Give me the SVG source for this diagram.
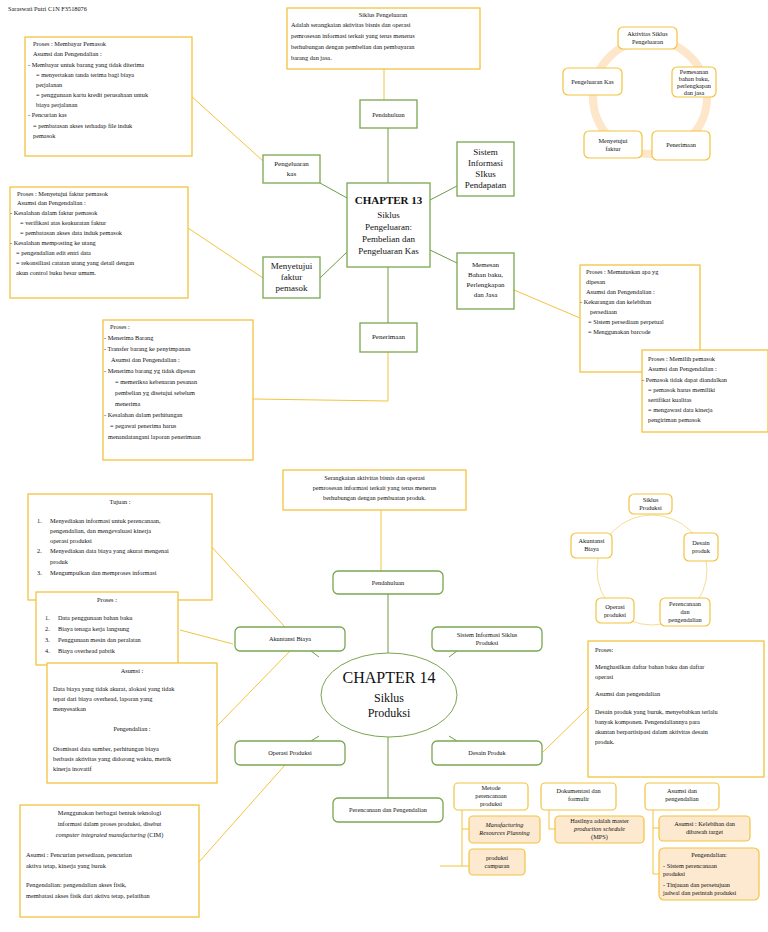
<svg xmlns="http://www.w3.org/2000/svg" width="768" height="932" viewBox="0 0 768 932">
<style>
text{font-family:"Liberation Serif",serif;fill:#111}
.s{font-size:6.3px}
.m{font-size:9px}
.yb{fill:#fff;stroke:#f2c440;stroke-width:1.3}
.gb{fill:#fff;stroke:#7aa652;stroke-width:1.3}
.ob{fill:#fff;stroke:#f2c440;stroke-width:1.2}
.of{fill:#fde9cf;stroke:#f2c440;stroke-width:1.2}
.gl{stroke:#6e9c47;stroke-width:1;fill:none}
.yl{stroke:#f2c440;stroke-width:1;fill:none}
</style>
<rect width="768" height="932" fill="#fff"/>
<text x="8" y="11" class="s">Saraswati Putri C1N F3518076</text>

<g id="connectors">
<line class="yl" x1="190" y1="95" x2="263" y2="161"/>
<line class="yl" x1="188" y1="228" x2="263" y2="278"/>
<line class="yl" x1="384" y1="69" x2="384" y2="100"/>
<line class="yl" x1="514" y1="290" x2="580" y2="318"/>
<polyline class="yl" points="253,399 388,401 388,352"/>
<line class="gl" x1="388" y1="128" x2="388" y2="183"/>
<line class="gl" x1="388" y1="267" x2="388" y2="323"/>
<line class="gl" x1="320" y1="183" x2="347" y2="198"/>
<line class="gl" x1="320" y1="278" x2="347" y2="252"/>
<line class="gl" x1="457" y1="186" x2="430" y2="200"/>
<line class="gl" x1="457" y1="263" x2="430" y2="250"/>
<line class="yl" x1="381" y1="510" x2="381" y2="571"/>
<line class="gl" x1="388" y1="594" x2="388" y2="653"/>
<line class="gl" x1="388" y1="737" x2="388" y2="798"/>
<line class="gl" x1="311" y1="651" x2="319" y2="657"/>
<line class="gl" x1="457" y1="651" x2="449" y2="657"/>
<line class="gl" x1="311" y1="741" x2="319" y2="736"/>
<line class="gl" x1="457" y1="741" x2="449" y2="736"/>
<line class="yl" x1="210" y1="545" x2="285" y2="627"/>
<line class="yl" x1="180" y1="630" x2="233" y2="644"/>
<line class="yl" x1="217" y1="726" x2="290" y2="651"/>
<line class="yl" x1="199" y1="862" x2="285" y2="765"/>
<line class="yl" x1="543" y1="752" x2="590" y2="706"/>
<line class="yl" x1="440" y1="866" x2="462" y2="866"/>
<polyline class="yl" points="462,810 462,866 469,866"/>
<line class="yl" x1="462" y1="829" x2="469" y2="829"/>
<polyline class="yl" points="549,810 549,829 555,829"/>
<polyline class="yl" points="653,810 653,874 659,874"/>
<line class="yl" x1="653" y1="828" x2="659" y2="828"/>
</g>

<g id="note1"><rect class="yb" x="25" y="37" width="167" height="119"/>
<text class="s" x="33" y="46">Proses : Membayar Pemasok</text>
<text class="s" x="33" y="56">Asumsi dan Pengendalian :</text>
<text class="s" x="28" y="67">-  Membayar untuk barang yang tidak diterima</text>
<text class="s" x="36" y="77">= menyertakan tanda terima bagi biaya</text>
<text class="s" x="36" y="87">perjalanan</text>
<text class="s" x="36" y="97">= penggunaan kartu kredit perusahaan untuk</text>
<text class="s" x="36" y="107">biaya perjalanan</text>
<text class="s" x="28" y="117">-  Pencurian kas</text>
<text class="s" x="33" y="128">= pembatasan akses terhadap file induk</text>
<text class="s" x="33" y="138">pemasok</text></g>

<g id="note2"><rect class="yb" x="10" y="187" width="178" height="111"/>
<text class="s" x="17" y="196">Proses : Menyetujui faktur pemasok</text>
<text class="s" x="17" y="205">Asumsi dan Pengendalian :</text>
<text class="s" x="10" y="215">-  Kesalahan dalam faktur pemasok</text>
<text class="s" x="20" y="225">= verifikasi atas keakuratan faktur</text>
<text class="s" x="20" y="235">= pembatasan akses data induk pemasok</text>
<text class="s" x="10" y="245">-  Kesalahan memposting ke utang</text>
<text class="s" x="16" y="255">= pengendalian edit entri data</text>
<text class="s" x="16" y="265">= rekonsiliasi catatan utang yang detail dengan</text>
<text class="s" x="16" y="275">akun control buku besar umum.</text></g>

<g id="top-desc"><rect class="yb" x="287" y="8" width="193" height="61"/>
<text class="s" x="383" y="17" text-anchor="middle" font-size="7">Siklus Pengeluaran</text>
<text class="s" x="291" y="27">Adalah serangkaian aktivitas bisnis dan operasi</text>
<text class="s" x="291" y="38">pemrosesan informasi terkait yang terus menerus</text>
<text class="s" x="291" y="49">berhubungan dengan pembelian dan pembayaran</text>
<text class="s" x="291" y="60">barang dan jasa.</text></g>

<g id="pendahuluan13"><rect class="gb" x="360" y="100" width="57" height="28"/>
<text class="s" x="388.5" y="117" text-anchor="middle" font-size="7">Pendahuluan</text></g>
<g id="pengeluaran-kas"><rect class="gb" x="263" y="155" width="57" height="28"/>
<text x="291.5" y="166" text-anchor="middle" font-size="7">Pengeluaran</text><text x="291.5" y="176" text-anchor="middle" font-size="7">kas</text></g>
<g id="sistem-info"><rect class="gb" x="457" y="142" width="57" height="54"/>
<text class="m" x="485.5" y="155" text-anchor="middle">Sistem</text><text class="m" x="485.5" y="166" text-anchor="middle">Informasi</text><text class="m" x="485.5" y="177" text-anchor="middle">SIkus</text><text class="m" x="485.5" y="188" text-anchor="middle">Pendapatan</text></g>
<g id="chapter13"><rect class="gb" x="347" y="183" width="83" height="84"/>
<text x="388.5" y="204" text-anchor="middle" font-size="11" font-weight="bold">CHAPTER 13</text>
<text class="m" x="388.5" y="218" text-anchor="middle">Siklus</text><text class="m" x="388.5" y="230" text-anchor="middle">Pengeluaran:</text><text class="m" x="388.5" y="242" text-anchor="middle">Pembelian dan</text><text class="m" x="388.5" y="254" text-anchor="middle">Pengeluaran Kas</text></g>
<g id="menyetujui"><rect class="gb" x="263" y="257" width="57" height="41"/>
<text class="m" x="291.5" y="269" text-anchor="middle">Menyetujui</text><text class="m" x="291.5" y="280" text-anchor="middle">faktur</text><text class="m" x="291.5" y="291" text-anchor="middle">pemasok</text></g>
<g id="memesan"><rect class="gb" x="457" y="253" width="57" height="56"/>
<text x="485.5" y="267" text-anchor="middle" font-size="7">Memesan</text><text x="485.5" y="277" text-anchor="middle" font-size="7">Bahan baku,</text><text x="485.5" y="287" text-anchor="middle" font-size="7">Perlengkapan</text><text x="485.5" y="297" text-anchor="middle" font-size="7">dan Jasa</text></g>
<g id="penerimaan13"><rect class="gb" x="360" y="323" width="57" height="29"/>
<text x="388.5" y="339" text-anchor="middle" font-size="7">Penerimaan</text></g>

<g id="cycle13">
<circle cx="650" cy="97" r="57" fill="none" stroke="#fde6c9" stroke-width="8"/>
<g id="c13a"><rect class="ob" x="618" y="27" width="59" height="22" rx="5"/><text class="s" x="647.5" y="36" text-anchor="middle">Aktivitas Siklus</text><text class="s" x="647.5" y="44" text-anchor="middle">Pengeluaran</text></g>
<g id="c13b"><rect class="ob" x="672" y="67" width="44" height="30" rx="5"/><text class="s" x="694" y="74" text-anchor="middle">Pemesanan</text><text class="s" x="694" y="81" text-anchor="middle">bahan baku,</text><text class="s" x="694" y="88" text-anchor="middle">perlengkapan</text><text class="s" x="694" y="95" text-anchor="middle">dan jasa</text></g>
<g id="c13c"><rect class="ob" x="652" y="131" width="58" height="29" rx="5"/><text class="s" x="681" y="147" text-anchor="middle">Penerimaan</text></g>
<g id="c13d"><rect class="ob" x="584" y="131" width="58" height="27" rx="5"/><text class="s" x="613" y="143" text-anchor="middle">Menyetujui</text><text class="s" x="613" y="151" text-anchor="middle">faktur</text></g>
<g id="c13e"><rect class="ob" x="563" y="68" width="59" height="27" rx="5"/><text class="s" x="592.5" y="84" text-anchor="middle">Pengeluaran Kas</text></g>
</g>

<g id="note-memesan"><rect class="yb" x="580" y="265" width="120" height="107"/>
<text class="s" x="586" y="274">Proses : Memutuskan apa yg</text>
<text class="s" x="586" y="284">dipesan</text>
<text class="s" x="586" y="294">Asumsi dan Pengendalian :</text>
<text class="s" x="580" y="304">-   Kekurangan dan kelebihan</text>
<text class="s" x="590" y="314">persediaan</text>
<text class="s" x="588" y="324">= Sistem persediaan perpetual</text>
<text class="s" x="588" y="334">= Menggunakan barcode</text></g>
<g id="note-memilih"><rect class="yb" x="642" y="350" width="126" height="82"/>
<text class="s" x="648" y="361">Proses : Memilih pemasok</text>
<text class="s" x="648" y="371">Asumsi dan Pengendalian :</text>
<text class="s" x="642" y="382">-  Pemasok tidak dapat diandalkan</text>
<text class="s" x="648" y="392">= pemasok harus memiliki</text>
<text class="s" x="648" y="402">sertifikat kualitas</text>
<text class="s" x="648" y="412">= mengawasi data kinerja</text>
<text class="s" x="648" y="422">pengiriman pemasok</text></g>

<g id="note-penerimaan"><rect class="yb" x="103" y="320" width="150" height="140"/>
<text class="s" x="110" y="329">Proses :</text>
<text class="s" x="104" y="340">-  Menerima Barang</text>
<text class="s" x="104" y="351">-  Transfer barang ke penyimpanan</text>
<text class="s" x="111" y="362">Asumsi dan Pengendalian :</text>
<text class="s" x="104" y="373">-  Menerima barang yg tidak dipesan</text>
<text class="s" x="115" y="384">= memeriksa kebenaran pesanan</text>
<text class="s" x="115" y="395">pembelian yg disetujui sebelum</text>
<text class="s" x="115" y="406">menerima</text>
<text class="s" x="104" y="417">-  Kesalahan dalam perhitungan</text>
<text class="s" x="110" y="428">= pegawai penerima harus</text>
<text class="s" x="108" y="439">menandatangani laporan penerimaan</text></g>

<g id="desc14"><rect class="yb" x="283" y="470" width="183" height="40"/>
<text class="s" x="374.5" y="480" text-anchor="middle">Serangkaian aktivitas bisnis dan operasi</text>
<text class="s" x="374.5" y="490" text-anchor="middle">pemrosesan informasi terkait yang terus menerus</text>
<text class="s" x="374.5" y="500" text-anchor="middle">berhubungan dengan pembuatan produk.</text></g>

<g id="pendahuluan14"><rect class="gb" x="333" y="571" width="110" height="23" rx="5"/><text class="s" x="388" y="585" text-anchor="middle">Pendahuluan</text></g>
<g id="akuntansi"><rect class="gb" x="235" y="627" width="110" height="24" rx="5"/><text class="s" x="290" y="641" text-anchor="middle">Akuntansi Biaya</text></g>
<g id="sistem14"><rect class="gb" x="432" y="627" width="110" height="24" rx="5"/><text class="s" x="487" y="637" text-anchor="middle">Sistem Informasi Siklus</text><text class="s" x="487" y="645" text-anchor="middle">Produksi</text></g>
<g id="chapter14"><ellipse cx="389" cy="695" rx="68" ry="42" fill="#fff" stroke="#7aa652" stroke-width="1"/>
<text x="389" y="683" text-anchor="middle" font-size="16">CHAPTER 14</text>
<text x="389" y="702" text-anchor="middle" font-size="12">Siklus</text>
<text x="389" y="717" text-anchor="middle" font-size="12">Produksi</text></g>
<g id="operasi"><rect class="gb" x="235" y="741" width="110" height="24" rx="5"/><text class="s" x="290" y="755" text-anchor="middle">Operasi Produksi</text></g>
<g id="desain"><rect class="gb" x="432" y="741" width="110" height="24" rx="5"/><text class="s" x="487" y="755" text-anchor="middle">Desain Produk</text></g>
<g id="perencanaan"><rect class="gb" x="333" y="798" width="110" height="24" rx="5"/><text class="s" x="388" y="812" text-anchor="middle">Perencanaan dan Pengendalian</text></g>

<g id="tujuan"><rect class="yb" x="28" y="494" width="184" height="106"/>
<text class="s" x="120" y="504" text-anchor="middle">Tujuan :</text>
<text class="s" x="37" y="523">1.</text><text class="s" x="50" y="523">Menyediakan informasi untuk perencanaan,</text>
<text class="s" x="50" y="533">pengendalian, dan mengevaluasi kinerja</text>
<text class="s" x="50" y="543">operasi produksi</text>
<text class="s" x="37" y="553">2.</text><text class="s" x="50" y="553">Menyediakan data biaya yang akurat mengenai</text>
<text class="s" x="50" y="564">produk</text>
<text class="s" x="37" y="575">3.</text><text class="s" x="50" y="575">Mengumpulkan dan memproses informasi</text></g>
<g id="proses14"><rect class="yb" x="36" y="592" width="142" height="73"/>
<text class="s" x="107" y="602" text-anchor="middle">Proses :</text>
<text class="s" x="45" y="620">1.</text><text class="s" x="58" y="620">Data penggunaan bahan baku</text>
<text class="s" x="45" y="631">2.</text><text class="s" x="58" y="631">Biaya tenaga kerja langsung</text>
<text class="s" x="45" y="642">3.</text><text class="s" x="58" y="642">Penggunaan mesin dan peralatan</text>
<text class="s" x="45" y="653">4.</text><text class="s" x="58" y="653">Biaya overhead pabrik</text></g>
<g id="asumsi14"><rect class="yb" x="47" y="663" width="170" height="120"/>
<text class="s" x="132" y="673" text-anchor="middle">Asumsi :</text>
<text class="s" x="53" y="691">Data biaya yang tidak akurat, alokasi yang tidak</text>
<text class="s" x="53" y="701">tepat dari biaya overhead, laporan yang</text>
<text class="s" x="53" y="711">menyesatkan</text>
<text class="s" x="132" y="731" text-anchor="middle">Pengendalian :</text>
<text class="s" x="53" y="751">Otomisasi data sumber, perhitungan biaya</text>
<text class="s" x="53" y="761">berbasis aktivitas yang didorong waktu, metrik</text>
<text class="s" x="53" y="771">kinerja inovatif</text></g>
<g id="cim"><rect class="yb" x="20" y="805" width="179" height="112"/>
<text class="s" x="109.5" y="815" text-anchor="middle">Menggunakan berbagai bentuk teknologi</text>
<text class="s" x="109.5" y="826" text-anchor="middle">informasi dalam proses produksi, disebut</text>
<text class="s" x="109.5" y="837" text-anchor="middle"><tspan font-style="italic">computer integrated manufacturing</tspan> (CIM)</text>
<text class="s" x="26" y="857">Asumsi : Pencurian persediaan, pencurian</text>
<text class="s" x="26" y="868">aktiva tetap, kinerja yang buruk</text>
<text class="s" x="26" y="887">Pengendalian: pengendalian akses fisik,</text>
<text class="s" x="26" y="898">membatasi akses fisik dari aktiva tetap, pelatihan</text></g>

<g id="cycle14">
<circle cx="652" cy="570" r="55" fill="none" stroke="#f7dd9a" stroke-width="1"/>
<g id="c14a"><rect class="ob" x="629" y="494" width="43" height="20" rx="5"/><text class="s" x="650.5" y="502" text-anchor="middle">Siklus</text><text class="s" x="650.5" y="510" text-anchor="middle">Produksi</text></g>
<g id="c14b"><rect class="ob" x="684" y="533" width="34" height="28" rx="5"/><text class="s" x="701" y="545" text-anchor="middle">Desain</text><text class="s" x="701" y="553" text-anchor="middle">produk</text></g>
<g id="c14c"><rect class="ob" x="660" y="598" width="50" height="28" rx="5"/><text class="s" x="685" y="606" text-anchor="middle">Perencanaan</text><text class="s" x="685" y="614" text-anchor="middle">dan</text><text class="s" x="685" y="622" text-anchor="middle">pengendalian</text></g>
<g id="c14d"><rect class="ob" x="596" y="598" width="38" height="25" rx="5"/><text class="s" x="615" y="609" text-anchor="middle">Operasi</text><text class="s" x="615" y="617" text-anchor="middle">produksi</text></g>
<g id="c14e"><rect class="ob" x="571" y="533" width="41" height="25" rx="5"/><text class="s" x="591.5" y="543" text-anchor="middle">Akuntansi</text><text class="s" x="591.5" y="551" text-anchor="middle">Biaya</text></g>
</g>

<g id="desain-note"><rect class="yb" x="588" y="641" width="176" height="136"/>
<text class="s" x="595" y="652">Proses:</text>
<text class="s" x="595" y="669">Menghasilkan daftar bahan baku dan daftar</text>
<text class="s" x="595" y="679">operasi</text>
<text class="s" x="595" y="696">Asumsi dan pengendalian</text>
<text class="s" x="595" y="714">Desain produk yang buruk, menyebabkan terlalu</text>
<text class="s" x="595" y="724">banyak komponen. Pengendaliannya para</text>
<text class="s" x="595" y="734">akuntan berpartisipasi dalam aktivitas desain</text>
<text class="s" x="595" y="744">produk.</text></g>

<g id="metode"><rect class="ob" x="454" y="783" width="74" height="27" rx="4"/><text class="s" x="491" y="790" text-anchor="middle">Metode</text><text class="s" x="491" y="798" text-anchor="middle">perencanaan</text><text class="s" x="491" y="806" text-anchor="middle">produksi</text></g>
<g id="mrp"><rect class="of" x="469" y="816" width="71" height="27" rx="4"/><text class="s" x="504.5" y="827" text-anchor="middle" font-style="italic">Manufacturing</text><text class="s" x="504.5" y="835" text-anchor="middle" font-style="italic">Resources Planning</text></g>
<g id="campuran"><rect class="of" x="469" y="849" width="56" height="26" rx="4"/><text class="s" x="497" y="860" text-anchor="middle">produksi</text><text class="s" x="497" y="868" text-anchor="middle">campuran</text></g>
<g id="dokumentasi"><rect class="ob" x="541" y="783" width="75" height="27" rx="4"/><text class="s" x="578.5" y="793" text-anchor="middle">Dokumentasi dan</text><text class="s" x="578.5" y="801" text-anchor="middle">formulir</text></g>
<g id="mps"><rect class="of" x="555" y="816" width="89" height="27" rx="4"/><text class="s" x="599.5" y="823" text-anchor="middle">Hasilnya adalah master</text><text class="s" x="599.5" y="831" text-anchor="middle" font-style="italic">production schedule</text><text class="s" x="599.5" y="839" text-anchor="middle">(MPS)</text></g>
<g id="asumsi-peng"><rect class="ob" x="645" y="783" width="74" height="27" rx="4"/><text class="s" x="682" y="793" text-anchor="middle">Asumsi dan</text><text class="s" x="682" y="801" text-anchor="middle">pengendalian</text></g>
<g id="kelebihan"><rect class="of" x="659" y="816" width="91" height="25" rx="4"/><text class="s" x="704.5" y="826" text-anchor="middle">Asumsi : Kelebihan dan</text><text class="s" x="704.5" y="834" text-anchor="middle">dibawah target</text></g>
<g id="pengendalian"><rect class="of" x="659" y="848" width="100" height="52" rx="5"/><text class="s" x="709" y="857" text-anchor="middle">Pengendalian:</text>
<text class="s" x="663" y="868">- Sistem perencanaan</text><text class="s" x="663" y="876">produksi</text>
<text class="s" x="663" y="887">- Tinjauan dan persetujuan</text><text class="s" x="663" y="895">jadwal dan perintah produksi</text></g>
</svg>
